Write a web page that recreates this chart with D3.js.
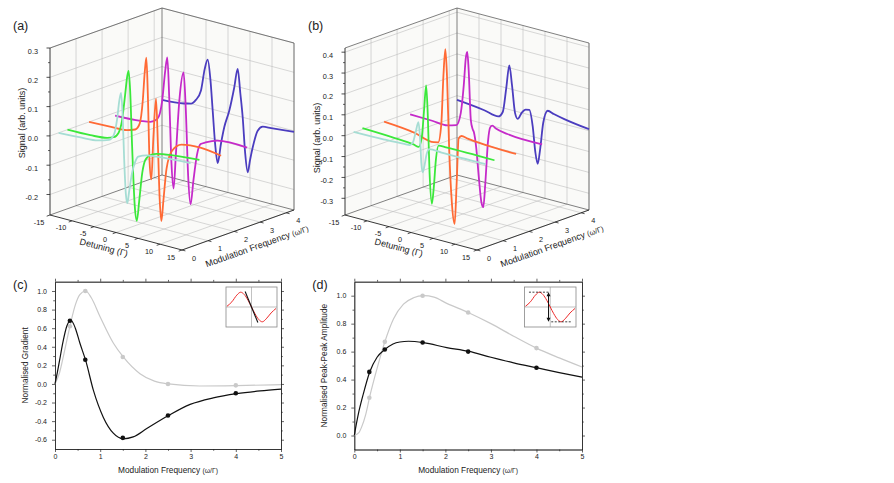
<!DOCTYPE html>
<html>
<head>
<meta charset="utf-8">
<script src="https://cdn.jsdelivr.net/npm/d3@7/dist/d3.min.js"></script>
<style>
body { margin: 0; background: #fff; }
svg text { font-family: "Liberation Sans", Arial, sans-serif; fill: #222; }
</style>
</head>
<body>
<svg id="chart" width="894" height="483"></svg>
<script>
// ---- 3D panels (a), (b): signal vs detuning, one trace per modulation frequency ----
const detTicks = [-15, -10, -5, 0, 5, 10, 15];
const freqTicks = [0, 1, 2, 3, 4];
const freqMax = 4.3;
const traceFreqs = [4.3, 2.5, 1.5, 0.67, 0.33];   // back to front
const traceColors = ["#4b3dbf", "#c52ac9", "#ff6a35", "#3be83b", "#a6ddd4"];

const aSignalTicks = [-0.2, -0.1, 0, 0.1, 0.2, 0.3];
const aSignalRange = [-0.27, 0.3];
const bSignalTicks = [-0.3, -0.2, -0.1, 0, 0.1, 0.2, 0.3, 0.4];
const bSignalRange = [-0.38, 0.42];

// [detuning, signal]
const aBlue = [[-15,-0.014],[-10,-0.006],[-8.4,0.0],[-7.3,0.017],[-6.14,0.054],[-5.3,0.13],[-4.61,0.165],[-4.0,0.1],[-3.48,-0.004],[-2.9,-0.12],[-2.34,-0.179],[-1.6,-0.11],[-0.84,-0.05],[0.3,0.011],[1.43,0.095],[2.2,0.161],[2.8,0.08],[3.34,0.0],[3.9,-0.12],[4.48,-0.183],[5.0,-0.14],[5.61,-0.094],[6.75,-0.032],[7.9,-0.014],[9.8,-0.011],[15,-0.003]];
const aMagenta = [[-15,-0.01],[-9.2,-0.005],[-7,0.0],[-5.4,0.017],[-4.3,0.084],[-3.6,0.19],[-3.14,0.236],[-2.7,0.1],[-2.2,-0.12],[-1.71,-0.206],[-1.2,-0.09],[-0.4,0.1],[0.56,0.199],[1.05,0.08],[1.6,-0.15],[2.15,-0.245],[2.8,-0.16],[3.6,-0.07],[4.43,-0.03],[5.56,-0.02],[8.2,-0.003],[15,0.0]];
const aOrange = [[-15,0],[-10,0.003],[-6.4,0.006],[-4.5,0.016],[-3.5,0.04],[-2.8,0.12],[-2.35,0.22],[-1.98,0.271],[-1.65,0.15],[-1.25,-0.08],[-0.85,-0.14],[-0.4,0.0],[0.22,0.14],[0.65,-0.02],[1.05,-0.2],[1.43,-0.273],[1.9,-0.2],[2.6,-0.09],[3.86,-0.023],[6,0.006],[10.3,0.013],[15,0.004]];
const aGreen = [[-15,0],[-9.8,0.002],[-6,0.008],[-4.5,0.016],[-3.4,0.035],[-2.6,0.08],[-1.9,0.17],[-1.4,0.238],[-1.1,0.256],[-0.75,0.19],[-0.3,0.0],[0.3,-0.2],[0.78,-0.248],[1.3,-0.18],[2.0,-0.08],[2.7,-0.033],[4,-0.01],[5.3,-0.002],[9,0.008],[15,0.016]];
const aCyan = [[-15,0.0],[-10,0.004],[-6,0.01],[-3.5,0.022],[-2.4,0.045],[-1.7,0.1],[-1.2,0.165],[-0.8,0.193],[-0.45,0.12],[-0.1,-0.03],[0.3,-0.15],[0.63,-0.178],[1.0,-0.14],[1.7,-0.07],[2.4,-0.03],[3.1,-0.009],[5,0.003],[7.3,0.0075],[15,0.016]];

const bBlue = [[-15,-0.02],[-8.8,-0.035],[-5.6,-0.047],[-4.6,-0.02],[-3.8,0.1],[-3.11,0.212],[-2.5,0.12],[-1.8,-0.01],[-1.2,-0.034],[-0.3,0.0],[0.6,0.02],[1.43,0.024],[2.2,-0.05],[2.8,-0.17],[3.34,-0.224],[3.9,-0.15],[4.6,-0.02],[5.61,0.043],[7,0.035],[9.39,0.024],[15,0.007]];
const bMagenta = [[-15,-0.009],[-10,-0.012],[-6.5,-0.015],[-4.5,-0.002],[-3.5,0.06],[-2.8,0.2],[-2.35,0.33],[-2.01,0.362],[-1.7,0.28],[-1.2,0.04],[-0.8,0.0],[-0.5,-0.014],[0,-0.08],[0.6,-0.22],[1.2,-0.34],[1.63,-0.361],[2.1,-0.24],[2.7,-0.04],[3.2,0.03],[3.68,0.041],[4.5,0.032],[7.1,0.02],[15,0.015]];
const bOrange = [[-15,0.0],[-8,-0.015],[-3.7,-0.035],[-2.7,-0.03],[-2.0,0.06],[-1.5,0.3],[-1.07,0.425],[-0.7,0.3],[-0.2,-0.05],[0.4,-0.3],[1.04,-0.40],[1.5,-0.2],[1.95,0.015],[2.6,0.03],[4,0.025],[8,0.018],[15,0.013]];
const bGreen = [[-15,0.006],[-8,0.0],[-3.4,-0.007],[-2.2,-0.012],[-1.5,0.04],[-1.0,0.17],[-0.52,0.292],[-0.15,0.15],[0.25,-0.12],[0.78,-0.268],[1.2,-0.19],[1.7,-0.05],[2.3,0.019],[4,0.02],[15,0.02]];
const bCyan = [[-15,0.004],[-8,0.006],[-3.5,0.01],[-2.2,0.012],[-1.5,0.03],[-0.9,0.08],[-0.27,0.132],[0.1,0.06],[0.4,-0.06],[0.72,-0.102],[1.1,-0.07],[1.6,-0.01],[2.2,0.017],[5,0.016],[15,0.017]];

// ---- 2D panels (c), (d) ----
const xTicks = [0, 1, 2, 3, 4, 5];
const pointFreqs = [0.33, 0.67, 1.5, 2.5, 4.0];

const cYTicks = [-0.6, -0.4, -0.2, 0, 0.2, 0.4, 0.6, 0.8, 1.0];
const cBlackPoints = [0.68, 0.26, -0.58, -0.34, -0.10];
const cGrayPoints = [0.62, 1.0, 0.29, 0.0, -0.015];
const cBlackCurveX = [0,0.05,0.1,0.18,0.26,0.35,0.45,0.55,0.68,0.85,1.07,1.29,1.51,1.73,2.03,2.51,2.99,3.5,4.02,4.54,5];
const cBlackCurveY = [0,0.12,0.25,0.46,0.62,0.685,0.6,0.44,0.25,-0.07,-0.36,-0.53,-0.59,-0.57,-0.48,-0.34,-0.22,-0.15,-0.105,-0.075,-0.055];
const cGrayCurveX = [0,0.1,0.2,0.33,0.45,0.55,0.68,0.8,1.0,1.29,1.51,1.88,2.2,2.51,3.2,4.02,5];
const cGrayCurveY = [0,0.12,0.33,0.62,0.85,0.96,1.0,0.93,0.72,0.44,0.29,0.11,0.03,0.0,-0.022,-0.018,-0.008];

const dYTicks = [0, 0.2, 0.4, 0.6, 0.8, 1.0];
const dBlackPoints = [0.455, 0.615, 0.665, 0.60, 0.485];
const dGrayPoints = [0.27, 0.67, 1.0, 0.88, 0.625];
const dBlackCurveX = [0,0.05,0.1,0.2,0.34,0.5,0.67,0.85,1.0,1.19,1.52,2.03,2.5,3.0,3.5,4.0,4.5,5];
const dBlackCurveY = [0,0.09,0.17,0.3,0.456,0.56,0.615,0.655,0.669,0.674,0.664,0.629,0.603,0.56,0.52,0.485,0.45,0.418];
const dGrayCurveX = [0,0.1,0.16,0.25,0.34,0.5,0.67,0.86,1.08,1.3,1.52,1.75,2.03,2.5,3.0,3.5,4.0,4.5,5];
const dGrayCurveY = [0,0.02,0.06,0.15,0.28,0.48,0.67,0.834,0.94,0.985,1.0,0.99,0.945,0.88,0.8,0.71,0.625,0.555,0.49];

// inset sketch of the error signal
const insetX = [-5,-4,-3,-2.2,-1.5,-0.7,0,0.7,1.5,2.2,3,4,5];
const insetY = [0.05,0.35,0.8,1.0,0.85,0.45,0,-0.45,-0.85,-1.0,-0.8,-0.4,-0.1];

const svg = d3.select("#chart");
svg.append("rect").attr("width", 894).attr("height", 483).attr("fill", "#fff");

function seg(g, a, b, stroke, w) {
  return g.append("line")
    .attr("x1", a[0]).attr("y1", a[1]).attr("x2", b[0]).attr("y2", b[1])
    .attr("stroke", stroke).attr("stroke-width", w);
}

function draw3d(cfg) {
  const g = svg.append("g");
  const det = d3.scaleLinear().domain([-15, 15]).range([0, 1]);
  const frq = d3.scaleLinear().domain([0, freqMax]).range([0, 1]);
  const sig = d3.scaleLinear().domain(cfg.range).range([0, 1]);
  const [z0, z1] = cfg.range;
  const P = (d, f, z) => [
    cfg.ox + det(d) * 132 + frq(f) * 112,
    cfg.oy + det(d) * 35 - frq(f) * 40 - sig(z) * 167
  ];
  const poly = pts => g.append("polygon")
    .attr("points", pts.map(p => p.join(",")).join(" "))
    .attr("fill", "#fafaf8");

  poly([P(-15,0,z0), P(-15,freqMax,z0), P(-15,freqMax,z1), P(-15,0,z1)]);
  poly([P(-15,freqMax,z0), P(15,freqMax,z0), P(15,freqMax,z1), P(-15,freqMax,z1)]);
  poly([P(-15,0,z0), P(15,0,z0), P(15,freqMax,z0), P(-15,freqMax,z0)]);

  // grid on walls and floor
  const grid = "#bdbdbd";
  cfg.ticks.forEach(z => {
    seg(g, P(-15,0,z), P(-15,freqMax,z), grid, 0.6);
    seg(g, P(-15,freqMax,z), P(15,freqMax,z), grid, 0.6);
  });
  freqTicks.slice(1).forEach(f => {
    seg(g, P(-15,f,z0), P(-15,f,z1), grid, 0.6);
    seg(g, P(-15,f,z0), P(15,f,z0), grid, 0.6);
  });
  detTicks.slice(1).forEach(d => {
    seg(g, P(d,freqMax,z0), P(d,freqMax,z1), grid, 0.6);
    seg(g, P(d,0,z0), P(d,freqMax,z0), grid, 0.6);
  });

  // box edges
  const edge = "#555";
  seg(g, P(-15,0,z1), P(-15,freqMax,z1), edge, 0.75);
  seg(g, P(-15,freqMax,z1), P(15,freqMax,z1), edge, 0.75);
  seg(g, P(-15,freqMax,z0), P(-15,freqMax,z1), edge, 0.75);
  seg(g, P(15,freqMax,z0), P(15,freqMax,z1), edge, 0.75);
  seg(g, P(-15,0,z0), P(-15,freqMax,z0), edge, 0.75);
  seg(g, P(-15,freqMax,z0), P(15,freqMax,z0), edge, 0.75);

  // traces
  const line = d3.line().curve(d3.curveMonotoneX);
  cfg.traces.forEach((tr, i) => {
    g.append("path")
      .attr("d", line(tr.map(p => P(p[0], traceFreqs[i], p[1]))))
      .attr("fill", "none")
      .attr("stroke", traceColors[i])
      .attr("stroke-width", 1.8);
  });

  // axes
  seg(g, P(-15,0,z0), P(-15,0,z1), "#222", 0.9);
  seg(g, P(-15,0,z0), P(15,0,z0), "#222", 0.9);
  seg(g, P(15,0,z0), P(15,freqMax,z0), "#222", 0.9);

  cfg.ticks.forEach(z => {
    const a = P(-15, 0, z);
    seg(g, a, [a[0] - 3.5, a[1]], "#222", 0.8);
    g.append("text").attr("x", a[0] - 12).attr("y", a[1] + 5.5)
      .attr("text-anchor", "end").attr("font-size", 7.3).text(z.toFixed(1));
    const m = z + 0.05;
    if (m < z1) { const b = P(-15, 0, m); seg(g, b, [b[0] - 2, b[1]], "#222", 0.7); }
  });
  detTicks.forEach(d => {
    const a = P(d, 0, z0);
    seg(g, a, [a[0] - 3.3, a[1] + 1.2], "#222", 0.8);
    g.append("text").attr("x", a[0] - 11).attr("y", a[1] + 9.5)
      .attr("text-anchor", "middle").attr("font-size", 7.3).text(d);
  });
  freqTicks.forEach(f => {
    const a = P(15, f, z0);
    seg(g, a, [a[0] + 3.4, a[1] + 0.9], "#222", 0.8);
    g.append("text").attr("x", a[0] + 12).attr("y", a[1] + 10.5)
      .attr("text-anchor", "middle").attr("font-size", 7.3).text(f);
  });

  // titles
  g.append("text").attr("transform", `translate(${cfg.ox - 25},${cfg.zTitleY}) rotate(-90)`)
    .attr("text-anchor", "middle").attr("font-size", 9).text("Signal (arb. units)");
  const dt = P(0, 0, z0);
  g.append("text").attr("transform", `translate(${dt[0] - 13},${dt[1] + 18}) rotate(14.9)`)
    .attr("text-anchor", "middle").attr("font-size", 9).text("Detuning (Γ)");
  const ft = P(15, 2.15, z0);
  const t = g.append("text").attr("transform", `translate(${ft[0] + 20},${ft[1] + 19}) rotate(-19.6)`)
    .attr("text-anchor", "middle").attr("font-size", 9);
  t.append("tspan").text("Modulation Frequency ");
  t.append("tspan").attr("font-size", 7.5).text("(ω/Γ)");

  svg.append("text").attr("x", cfg.ox - 37).attr("y", 30).attr("font-size", 12.5).text(cfg.label);
}

draw3d({ ox: 50, oy: 215, range: aSignalRange, ticks: aSignalTicks, zTitleY: 123,
         traces: [aBlue, aMagenta, aOrange, aGreen, aCyan], label: "(a)" });
draw3d({ ox: 345, oy: 215, range: bSignalRange, ticks: bSignalTicks, zTitleY: 138,
         traces: [bBlue, bMagenta, bOrange, bGreen, bCyan], label: "(b)" });

function draw2d(cfg) {
  const g = svg.append("g");
  const x = d3.scaleLinear().domain([0, 5]).range([cfg.left, cfg.right]);
  const y = d3.scaleLinear().domain(cfg.yDomain).range([cfg.bottom, cfg.top]);
  const style = sel => {
    sel.selectAll("path, line").attr("stroke", "#222").attr("stroke-width", 0.7);
    sel.selectAll("text").attr("font-size", 7).attr("fill", "#222")
      .attr("font-family", "Liberation Sans, Arial, sans-serif");
  };
  const xMinor = d3.range(0.5, 5, 1);
  const yMinor = cfg.yTicks.map(v => v + 0.1).filter(v => v < cfg.yDomain[1]);
  if (cfg.yTicks[0] - 0.1 > cfg.yDomain[0]) yMinor.unshift(cfg.yTicks[0] - 0.1);

  const bottom = g.append("g").attr("transform", `translate(0,${cfg.bottom})`);
  bottom.call(d3.axisBottom(x).tickValues(xTicks).tickFormat(d3.format("d"))
    .tickSize(3).tickSizeOuter(0).tickPadding(2)).call(style);
  bottom.append("g").call(d3.axisBottom(x).tickValues(xMinor).tickFormat("").tickSize(1.8).tickSizeOuter(0)).call(style);

  const top = g.append("g").attr("transform", `translate(0,${cfg.top})`);
  top.call(d3.axisTop(x).tickValues(xTicks).tickFormat("").tickSize(3).tickSizeOuter(0)).call(style);
  top.append("g").call(d3.axisTop(x).tickValues(xMinor).tickFormat("").tickSize(1.8).tickSizeOuter(0)).call(style);

  const left = g.append("g").attr("transform", `translate(${cfg.left},0)`);
  left.call(d3.axisLeft(y).tickValues(cfg.yTicks).tickFormat(v => v.toFixed(1))
    .tickSize(3).tickSizeOuter(0).tickPadding(5)).call(style);
  left.append("g").call(d3.axisLeft(y).tickValues(yMinor).tickFormat("").tickSize(1.8).tickSizeOuter(0)).call(style);

  const right = g.append("g").attr("transform", `translate(${cfg.right},0)`);
  right.call(d3.axisRight(y).tickValues(cfg.yTicks).tickFormat("").tickSize(3).tickSizeOuter(0)).call(style);
  right.append("g").call(d3.axisRight(y).tickValues(yMinor).tickFormat("").tickSize(1.8).tickSizeOuter(0)).call(style);

  const line = d3.line().x(d => x(d[0])).y(d => y(d[1])).curve(d3.curveMonotoneX);
  const series = [
    { cx: cfg.grayX, cy: cfg.grayY, pts: cfg.grayPts, color: "#c9c9c9" },
    { cx: cfg.blackX, cy: cfg.blackY, pts: cfg.blackPts, color: "#111" }
  ];
  series.forEach(s => {
    g.append("path").attr("d", line(s.cx.map((v, i) => [v, s.cy[i]])))
      .attr("fill", "none").attr("stroke", s.color).attr("stroke-width", 1.2);
    g.selectAll(null).data(pointFreqs).enter().append("circle")
      .attr("cx", d => x(d)).attr("cy", (d, i) => y(s.pts[i]))
      .attr("r", 2.3).attr("fill", s.color);
  });

  const xt = g.append("text").attr("x", (cfg.left + cfg.right) / 2).attr("y", 473)
    .attr("text-anchor", "middle").attr("font-size", 8.3);
  xt.append("tspan").text("Modulation Frequency ");
  xt.append("tspan").attr("font-size", 6.8).text("(ω/Γ)");
  g.append("text").attr("transform", `translate(${cfg.left - 27},${(cfg.top + cfg.bottom) / 2}) rotate(-90)`)
    .attr("text-anchor", "middle").attr("font-size", 8.3).text(cfg.yTitle);
  svg.append("text").attr("x", cfg.left - 42).attr("y", 289).attr("font-size", 12.5).text(cfg.label);

  // inset
  const bx = cfg.inset[0], by = cfg.inset[1], bw = cfg.inset[2], bh = 40;
  const ix = d3.scaleLinear().domain([-5, 5]).range([bx + 1, bx + bw - 1]);
  const iy = d3.scaleLinear().domain([-1.35, 1.35]).range([by + bh, by]);
  const ig = g.append("g");
  ig.append("rect").attr("x", bx).attr("y", by).attr("width", bw).attr("height", bh)
    .attr("fill", "#fff").attr("stroke", "#888").attr("stroke-width", 0.8);
  seg(ig, [bx, iy(0)], [bx + bw, iy(0)], "#999", 0.6);
  seg(ig, [ix(0), by], [ix(0), by + bh], "#999", 0.6);
  ig.append("path").attr("d", d3.line().x(d => ix(d[0])).y(d => iy(d[1])).curve(d3.curveMonotoneX)(insetX.map((v, i) => [v, insetY[i]])))
    .attr("fill", "none").attr("stroke", "#ee2a2a").attr("stroke-width", 1);
  if (cfg.gradient) {
    seg(ig, [ix(-1.3), iy(1.05)], [ix(1.3), iy(-1.05)], "#111", 1.1);
  } else {
    seg(ig, [ix(-4.3), iy(1)], [ix(-0.2), iy(1)], "#111", 0.8).attr("stroke-dasharray", "2,1.5");
    seg(ig, [ix(0.2), iy(-1)], [ix(4.3), iy(-1)], "#111", 0.8).attr("stroke-dasharray", "2,1.5");
    const ax = ix(-0.35);
    seg(ig, [ax, iy(0.85)], [ax, iy(-0.85)], "#111", 1);
    ig.append("path").attr("d", `M${ax},${iy(1)} l-2,4 h4 z M${ax},${iy(-1)} l-2,-4 h4 z`).attr("fill", "#111");
  }
}

draw2d({ left: 55, right: 281, top: 281.7, bottom: 449, yDomain: [-0.7, 1.1], yTicks: cYTicks,
         blackX: cBlackCurveX, blackY: cBlackCurveY, blackPts: cBlackPoints,
         grayX: cGrayCurveX, grayY: cGrayCurveY, grayPts: cGrayPoints,
         yTitle: "Normalised Gradient", label: "(c)", inset: [226, 287, 51], gradient: true });
draw2d({ left: 354.3, right: 582, top: 281.7, bottom: 449.5, yDomain: [-0.1, 1.1], yTicks: dYTicks,
         blackX: dBlackCurveX, blackY: dBlackCurveY, blackPts: dBlackPoints,
         grayX: dGrayCurveX, grayY: dGrayCurveY, grayPts: dGrayPoints,
         yTitle: "Normalised Peak-Peak Amplitude", label: "(d)", inset: [524.5, 287, 51.5], gradient: false });
</script>
</body>
</html>
